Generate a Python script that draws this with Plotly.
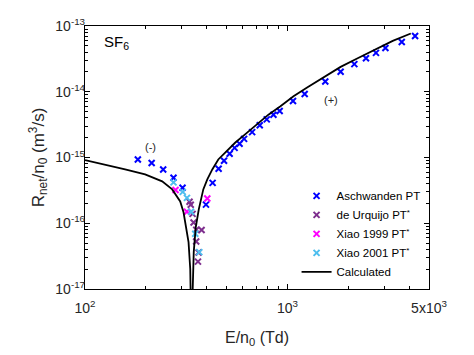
import plotly.graph_objects as go

# ---- data ----
asch_E = [182.4, 213.4, 243.3, 273.6, 303.2, 395.8, 426.8, 457, 486, 518, 548, 580, 610.5,
          669, 729.6, 790, 852.4, 915, 1065, 1216, 1537, 1830, 2139, 2442, 2736, 3046, 3668, 4268]
asch_R = [9.33e-16, 8.26e-16, 6.58e-16, 4.93e-16, 3.47e-16, 1.92e-16, 4.11e-16, 6.74e-16, 8.95e-16,
          1.14e-15, 1.40e-15, 1.62e-15, 1.92e-15, 2.43e-15, 3.09e-15, 3.80e-15, 4.48e-15, 5.10e-15,
          7.23e-15, 9.23e-15, 1.43e-14, 2.01e-14, 2.63e-14, 3.24e-14, 3.90e-14, 4.64e-14, 5.72e-14, 7.05e-14]

urq_E = [328.3, 332.9, 339.8, 343.7, 354.5, 376.5, 354.1, 361.4, 364.0]
urq_R = [2.12e-16, 1.91e-16, 1.39e-16, 1.025e-16, 7.97e-17, 7.91e-17, 5.28e-17, 2.61e-17, 3.6e-17]

x99_E = [280, 318.8, 401.8]
x99_R = [3.20e-16, 1.50e-16, 2.38e-16]

x01_E = [273.6, 303.9, 318.8, 334, 350.4, 366.8]
x01_R = [4.18e-16, 3.0e-16, 2.43e-16, 1.50e-16, 6.93e-17, 3.64e-17]

calc_E = [100, 125.6, 157.8, 198.1, 240.5, 269.6, 295.3, 306.6, 316.2, 324.6, 331.0, 333.7, 335.0,
          336.7, 344.4, 352.4, 364.7, 375.3, 383.9, 401.8, 425.3, 455.3, 498.9, 552.8, 619.5,
          702.4, 805.3, 923.3, 1071, 1256, 1508, 1830, 2221, 2727, 3310, 4064]
calc_R = [9.1e-16, 7.84e-16, 6.58e-16, 5.52e-16, 4.33e-16, 3.27e-16, 2.15e-16, 1.47e-16, 8.7e-17,
          5.15e-17, 2.01e-17, 1.0e-17, 2e-18,
          3e-18, 3.64e-17, 8.7e-17, 1.63e-16, 2.48e-16, 3.27e-16, 4.64e-16, 6.58e-16, 9.33e-16,
          1.23e-15, 1.69e-15, 2.27e-15, 3.11e-15, 4.48e-15, 6.03e-15, 8.55e-15, 1.17e-14,
          1.66e-14, 2.39e-14, 3.24e-14, 4.41e-14, 5.93e-14, 7.70e-14]

x_tickvals = [100, 1000, 5000]
x_ticktext = ["10<sup>2</sup>", "10<sup>3</sup>", "5x10<sup>3</sup>"]
y_tickvals = [1e-17, 1e-16, 1e-15, 1e-14, 1e-13]
y_ticktext = ["10<sup>-17</sup>", "10<sup>-16</sup>", "10<sup>-15</sup>", "10<sup>-14</sup>", "10<sup>-13</sup>"]

x_minor = [200, 300, 400, 500, 600, 700, 800, 900, 2000, 3000, 4000]
y_minor = [m * 10.0 ** e for e in range(-17, -13) for m in range(2, 10)]

FONT = "Liberation Sans, Arial, Helvetica, sans-serif"

fig = go.Figure()

def xs(name, E, R, color):
    fig.add_trace(go.Scatter(
        x=E, y=R, mode="markers", name=name,
        marker=dict(symbol="x-thin", size=6, color=color, line=dict(width=2, color=color)),
    ))

xs("Aschwanden PT", asch_E, asch_R, "#0000FF")
xs("de Urquijo PT<sup>*</sup>", urq_E, urq_R, "#7E2F8E")
xs("Xiao 1999 PT<sup>*</sup>", x99_E, x99_R, "#FF00FF")
xs("Xiao 2001 PT<sup>*</sup>", x01_E, x01_R, "#4DBEEE")

fig.add_trace(go.Scatter(x=calc_E, y=calc_R, mode="lines", name="Calculated",
                         line=dict(color="black", width=1.8)))

axis_common = dict(
    showline=True, linecolor="black", linewidth=1.3, mirror="ticks",
    ticks="inside", ticklen=5, tickwidth=1.2, tickcolor="black",
    showgrid=False, zeroline=False, automargin=False,
    tickfont=dict(family=FONT, size=14, color="#262626"),
)

fig.update_xaxes(type="log", range=[2, 3.69897], tickmode="array",
                 tickvals=x_tickvals, ticktext=x_ticktext, ticklabelstandoff=6,
                 minor=dict(tickmode="array", tickvals=x_minor, ticks="inside", ticklen=3,
                            tickcolor="black", tickwidth=1, showgrid=False),
                 title=dict(text="E/n<sub>0</sub> (Td)", font=dict(family=FONT, size=16, color="#262626"),
                            standoff=16),
                 **axis_common)
fig.update_yaxes(type="log", range=[-17, -13], tickmode="array",
                 tickvals=y_tickvals, ticktext=y_ticktext, ticklabelstandoff=-4,
                 minor=dict(tickmode="array", tickvals=y_minor, ticks="inside", ticklen=3,
                            tickcolor="black", tickwidth=1, showgrid=False),
                 title=dict(text="R<sub>net</sub>/n<sub>0</sub> (m<sup>3</sup>/s)",
                            font=dict(family=FONT, size=17, color="#262626"), standoff=6),
                 **axis_common)

fig.add_annotation(x=2.0843, y=-13.258, xref="x", yref="y", text="SF<sub>6</sub>", showarrow=False,
                   xanchor="left", yanchor="middle", font=dict(family=FONT, size=15, color="black"))
fig.add_annotation(x=2.3218, y=-14.833, xref="x", yref="y", text="(-)", showarrow=False,
                   font=dict(family=FONT, size=11, color="#262626"))
fig.add_annotation(x=3.2129, y=-14.121, xref="x", yref="y", text="(+)", showarrow=False,
                   font=dict(family=FONT, size=11, color="#262626"))

fig.update_layout(
    width=474, height=355,
    margin=dict(l=85, r=45, t=26, b=66),
    paper_bgcolor="white", plot_bgcolor="white",
    showlegend=True,
    legend=dict(x=0.99, y=0.01, xanchor="right", yanchor="bottom",
                bgcolor="rgba(255,255,255,0)", borderwidth=0,
                font=dict(family=FONT, size=11.5, color="black"),
                tracegroupgap=0, itemwidth=30),
    font=dict(family=FONT),
)

fig.write_html("out.html", config={"displayModeBar": False},
               post_script="document.body.style.margin='0';document.body.style.padding='0';")
